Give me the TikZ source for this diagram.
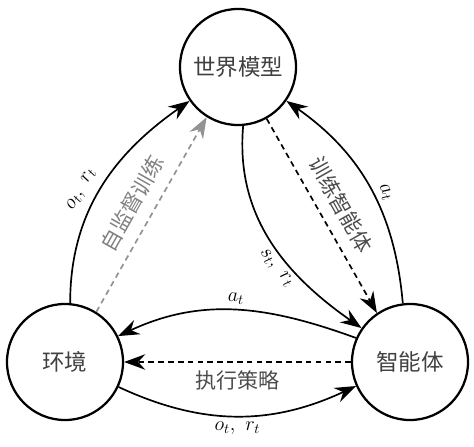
\documentclass[tikz,border=0pt]{standalone}
\usepackage{fontspec}
\newfontfamily\cjk{Noto Sans CJK SC}
\usetikzlibrary{arrows.meta}
\begin{document}
\begin{tikzpicture}[
    x=0.025cm, y=-0.025cm,
    state/.style={circle, draw, line width=1.6pt, minimum size=2.9cm, inner sep=0pt, font=\cjk\fontsize{16}{18}\selectfont, text=black!75},
    arrow/.style={-{Stealth[length=15pt, width=11pt, inset=5pt]}, line width=1.2pt},
    dasharrow/.style={arrow, dash pattern=on 4pt off 3pt},
    zh/.style={font=\cjk\fontsize{15}{17}\selectfont, text=black!70},
    var/.style={font=\Large}
]
    \useasboundingbox (0,0) rectangle (474,447);

    % States
    \node[state] (model) at (238,67) {世界模型};
    \node[state] (env) at (65,362) {环境};
    \node[state] (agent) at (410,362) {智能体};

    % Environment -> World model
    \draw[arrow] (env.85) to[out=90, in=215] node[var, sloped, above=3pt, pos=0.45] {$o_t,\ r_t$} (model.215);
    \draw[dasharrow, gray!85] (env.58) -- node[zh, text=gray, sloped, above=5pt] {自监督训练} (model.238);

    % World model <-> Agent
    \draw[arrow] (model.275) to[out=265, in=145] node[var, sloped, below, pos=0.6] {$s_t,\ r_t$} (agent.145);
    \draw[dasharrow] (model.299) -- node[zh, sloped, above=5pt] {训练智能体} (agent.124);
    \draw[arrow] (agent.97) to[out=95, in=325] node[var, sloped, above, pos=0.45] {$a_t$} (model.325);

    % Agent <-> Environment
    \draw[arrow] (agent.156) to[out=160, in=25] node[var, above] {$a_t$} (env.26);
    \draw[dasharrow] (agent.180) -- node[zh, below=2pt] {执行策略} (env.0);
    \draw[arrow] (env.335) to[out=-25, in=205] node[var, below] {$o_t,\ r_t$} (agent.204);
\end{tikzpicture}
\end{document}
